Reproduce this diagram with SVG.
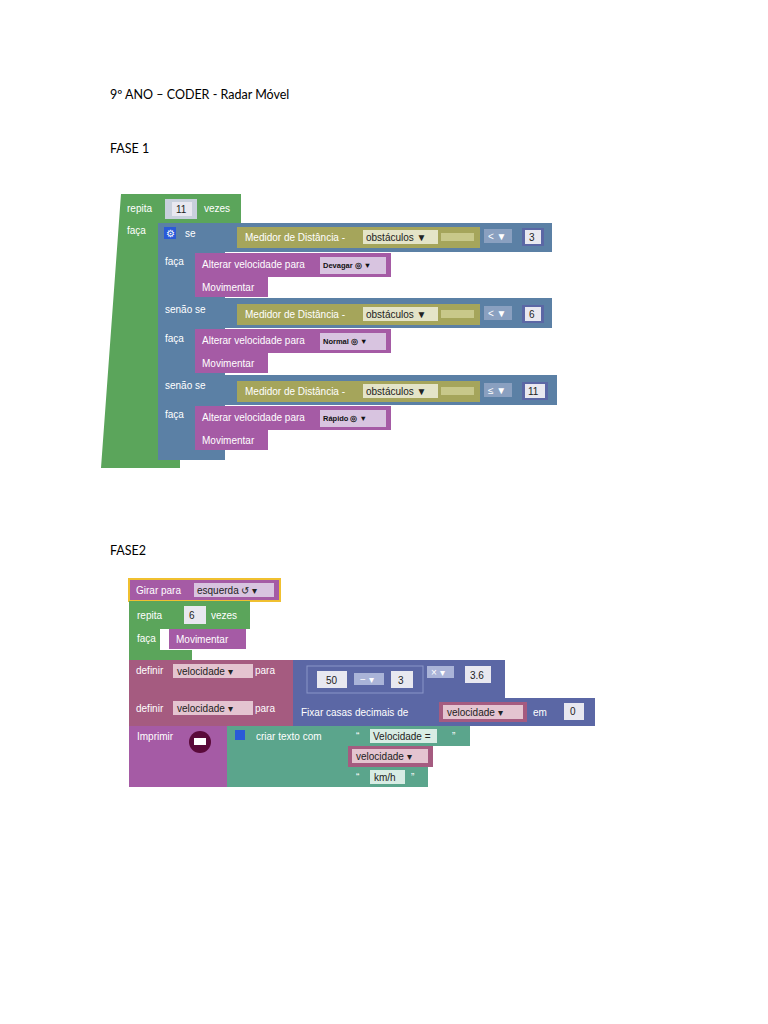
<svg xmlns="http://www.w3.org/2000/svg" width="768" height="1024" viewBox="0 0 768 1024">
<style>
.t{font-family:Lato,"Liberation Sans",sans-serif;font-size:12.5px;fill:#000}
.b{font-family:"Liberation Sans",Arial,sans-serif;font-size:10px;fill:#fff}
.d{font-family:"Liberation Sans",Arial,sans-serif;font-size:10px;fill:#222}
.s{font-family:"Liberation Sans",Arial,sans-serif;font-size:7.5px;font-weight:bold;fill:#111}
.g{fill:#5ba55b}.bl{fill:#5b80a5}.ol{fill:#a5a55b}.pu{fill:#a55ba5}.pl{fill:#d8c4e0}
.w{fill:#e8e8f0}.rd{fill:#a55b80}.in{fill:#5b67a5}.te{fill:#5ba58c}
</style>
<rect width="768" height="1024" fill="#fff"/>
<text class="t" x="110" y="99">9º ANO – CODER - Radar Móvel</text>
<text class="t" x="110" y="153">FASE 1</text>
<text class="t" x="110" y="555">FASE2</text>
<g id="fase1">
<path class="g" d="M121 194h120v30h-83v231h22v13h-79z"/>
<text class="b" x="127" y="212">repita</text>
<rect x="165" y="199" width="32" height="20" fill="#c8d0dc"/><rect x="172" y="202" width="20" height="14" class="w"/><text class="d" x="176" y="213">11</text>
<text class="b" x="204" y="212">vezes</text>
<text class="b" x="127" y="234">faça</text>
<path class="bl" d="M158 223h394v29h-327v46h327v30h-327v47h332v30h-332v55h-67z"/>
<rect x="164" y="227" width="12" height="12" fill="#2a5ad8"/><text class="b" x="166" y="237">⚙</text>
<text class="b" x="185" y="237">se</text>
<text class="b" x="165" y="265">faça</text>
<text class="b" x="165" y="313">senão se</text>
<text class="b" x="165" y="342">faça</text>
<text class="b" x="165" y="389">senão se</text>
<text class="b" x="165" y="418">faça</text>
<g id="cond1"><rect class="ol" x="237" y="227" width="243" height="21"/><text class="b" x="245" y="241">Medidor de Distância -</text><rect x="363" y="230" width="75" height="14" fill="#e4e4c8"/><text class="d" x="366" y="241">obstáculos ▼</text><rect x="441" y="233" width="33" height="8" fill="#c8c88a"/>
<rect x="484" y="229" width="28" height="14" fill="#8aa0c0"/><text class="b" x="488" y="240">&lt; ▼</text><rect x="522" y="228" width="22" height="18" fill="#5b67a5"/><rect x="525" y="230" width="16" height="14" class="w"/><text class="d" x="529" y="241">3</text></g>
<g id="cond2"><rect class="ol" x="237" y="304" width="243" height="21"/><text class="b" x="245" y="318">Medidor de Distância -</text><rect x="363" y="307" width="75" height="14" fill="#e4e4c8"/><text class="d" x="366" y="318">obstáculos ▼</text><rect x="441" y="310" width="33" height="8" fill="#c8c88a"/>
<rect x="484" y="306" width="28" height="14" fill="#8aa0c0"/><text class="b" x="488" y="317">&lt; ▼</text><rect x="522" y="305" width="22" height="18" fill="#5b67a5"/><rect x="525" y="307" width="16" height="14" class="w"/><text class="d" x="529" y="318">6</text></g>
<g id="cond3"><rect class="ol" x="237" y="381" width="243" height="21"/><text class="b" x="245" y="395">Medidor de Distância -</text><rect x="363" y="384" width="75" height="14" fill="#e4e4c8"/><text class="d" x="366" y="395">obstáculos ▼</text><rect x="441" y="387" width="33" height="8" fill="#c8c88a"/>
<rect x="484" y="383" width="28" height="14" fill="#8aa0c0"/><text class="b" x="488" y="394">≤ ▼</text><rect x="522" y="382" width="26" height="18" fill="#5b67a5"/><rect x="525" y="384" width="20" height="14" class="w"/><text class="d" x="528" y="395">11</text></g>
<g id="alt1"><rect class="pu" x="195" y="253" width="196" height="24"/><text class="b" x="202" y="268">Alterar velocidade para</text><rect class="pl" x="320" y="257" width="66" height="17"/><text class="s" x="323" y="268">Devagar ◎ ▼</text>
<rect class="pu" x="195" y="277" width="73" height="20"/><text class="b" x="202" y="291">Movimentar</text></g>
<g id="alt2"><rect class="pu" x="195" y="329" width="196" height="24"/><text class="b" x="202" y="344">Alterar velocidade para</text><rect class="pl" x="320" y="333" width="66" height="17"/><text class="s" x="323" y="344">Normal  ◎ ▼</text>
<rect class="pu" x="195" y="353" width="73" height="20"/><text class="b" x="202" y="367">Movimentar</text></g>
<g id="alt3"><rect class="pu" x="195" y="406" width="196" height="24"/><text class="b" x="202" y="421">Alterar velocidade para</text><rect class="pl" x="320" y="410" width="66" height="17"/><text class="s" x="323" y="421">Rápido   ◎ ▼</text>
<rect class="pu" x="195" y="430" width="73" height="20"/><text class="b" x="202" y="444">Movimentar</text></g>
</g>
<g id="fase2">
<rect class="pu" x="129" y="579" width="151" height="22" stroke="#f0c030" stroke-width="2"/>
<text class="b" x="136" y="594">Girar para</text><rect class="pl" x="194" y="583" width="80" height="14"/><text class="d" x="197" y="594">esquerda ↺ ▾</text>
<path class="g" d="M129 601h121v28h-90v21h32v10h-63z"/>
<text class="b" x="137" y="619">repita</text><rect x="184" y="606" width="22" height="18" class="w"/><text class="d" x="189" y="619">6</text><text class="b" x="211" y="619">vezes</text>
<text class="b" x="137" y="642">faça</text>
<rect class="pu" x="169" y="629" width="77" height="20"/><text class="b" x="176" y="643">Movimentar</text>
<rect class="rd" x="129" y="660" width="164" height="38"/><text class="b" x="136" y="674">definir</text><rect x="173" y="664" width="80" height="14" fill="#e4c4d0"/><text class="d" x="177" y="675">velocidade ▾</text><text class="b" x="255" y="674">para</text>
<rect class="in" x="293" y="660" width="212" height="38"/><rect x="307" y="666" width="116" height="27" fill="none" stroke="#8a96c8"/>
<rect class="w" x="317" y="671" width="30" height="17"/><text class="d" x="326" y="684">50</text><rect x="354" y="673" width="30" height="12" fill="#aab4d8"/><text class="b" x="360" y="683">− ▾</text><rect class="w" x="391" y="671" width="22" height="17"/><text class="d" x="398" y="684">3</text>
<rect x="427" y="666" width="27" height="12" fill="#aab4d8"/><text class="b" x="431" y="676">× ▾</text><rect class="w" x="465" y="666" width="26" height="17"/><text class="d" x="470" y="679">3.6</text>
<rect class="rd" x="129" y="698" width="164" height="28"/><text class="b" x="136" y="712">definir</text><rect x="173" y="701" width="80" height="14" fill="#e4c4d0"/><text class="d" x="177" y="712">velocidade ▾</text><text class="b" x="255" y="712">para</text>
<rect class="in" x="293" y="698" width="302" height="28"/><text class="b" x="301" y="716">Fixar casas decimais de</text><rect class="rd" x="439" y="702" width="88" height="20"/><rect x="443" y="705" width="80" height="14" fill="#e4c4d0"/><text class="d" x="447" y="716">velocidade ▾</text><text class="b" x="533" y="716">em</text><rect class="w" x="564" y="703" width="20" height="17"/><text class="d" x="570" y="715">0</text>
<rect class="pu" x="129" y="726" width="98" height="61"/><text class="b" x="137" y="740">Imprimir</text><circle cx="200" cy="742" r="11" fill="#5a0a3a"/><rect x="194" y="738" width="12" height="7" fill="#fff"/>
<rect class="te" x="227" y="726" width="121" height="61"/><rect x="235" y="730" width="10" height="10" fill="#2a5ad8"/><text class="b" x="256" y="740">criar texto com</text>
<rect class="te" x="348" y="726" width="122" height="20"/><text class="b" x="356" y="740">“</text><rect x="370" y="729" width="67" height="14" fill="#d8ece4"/><text class="d" x="373" y="740">Velocidade =</text><text class="b" x="452" y="740">”</text>
<rect class="rd" x="348" y="746" width="85" height="21"/><rect x="352" y="749" width="76" height="14" fill="#e4c4d0"/><text class="d" x="356" y="760">velocidade ▾</text>
<rect class="te" x="348" y="767" width="80" height="20"/><text class="b" x="356" y="781">“</text><rect x="370" y="770" width="35" height="14" fill="#d8ece4"/><text class="d" x="374" y="781">km/h</text><text class="b" x="411" y="781">”</text>
</g>
</svg>
